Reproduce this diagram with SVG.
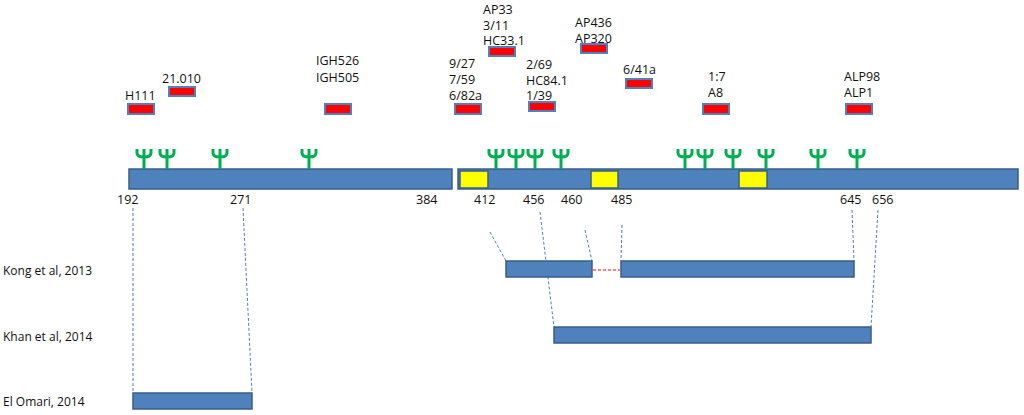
<svg xmlns="http://www.w3.org/2000/svg" width="1024" height="415" viewBox="0 0 1024 415">
<style>
text{font-family:"Open Sans","Liberation Sans",sans-serif;font-size:12.5px;fill:#111}
.lab{font-size:12px}
.bar{fill:#4f81bd;stroke:#385d8a;stroke-width:1.5}
.yel{fill:#ffff00;stroke:#385d8a;stroke-width:1.5}
.red{fill:#ff0000;stroke:#4f81bd;stroke-width:2}
.dash{stroke:#4f81bd;stroke-width:1;stroke-dasharray:3,2;fill:none}
.gly{fill:none;stroke:#00b050;stroke-width:3}
</style>
<defs>
<path id="g" class="gly" d="M0,20 V7 M-7,0 V4 Q-7,8 0,8 Q7,8 7,4 V0 M0,0 V8"/>
</defs>
<g id="connectors">
<path class="dash" d="M133,208 V393 M243,208 L252,393 M490,232 L506,261 M540,212 L554,327 M585,230 L592,261 M622,225 L621,261 M852,210 L854,261 M878,210 L871,327"/>
<path d="M593,270 H620" stroke="#ff0000" stroke-width="1" stroke-dasharray="3,2"/>
</g>
<g id="protein">
<rect class="bar" x="129" y="169" width="323" height="20"/>
<rect class="bar" x="458" y="169" width="560" height="20"/>
<rect class="yel" x="460" y="171" width="28" height="17"/>
<rect class="yel" x="591" y="171" width="27" height="17"/>
<rect class="yel" x="739" y="171" width="28" height="17"/>
</g>
<g id="glycans">
<use href="#g" x="144" y="149"/><use href="#g" x="167" y="149"/><use href="#g" x="220" y="149"/><use href="#g" x="309" y="149"/>
<use href="#g" x="496" y="149"/><use href="#g" x="516" y="149"/><use href="#g" x="535" y="149"/><use href="#g" x="561" y="149"/>
<use href="#g" x="685" y="149"/><use href="#g" x="705" y="149"/><use href="#g" x="733" y="149"/><use href="#g" x="766" y="149"/>
<use href="#g" x="818" y="149"/><use href="#g" x="857" y="149"/>
</g>
<g id="epitopes">
<rect class="red" x="128" y="104" width="26" height="10"/>
<text x="125" y="100">H111</text>
<rect class="red" x="169" y="87" width="26" height="9"/>
<text x="162" y="83">21.010</text>
<rect class="red" x="325" y="104" width="26" height="10"/>
<text x="316" y="65">IGH526</text><text x="316" y="82">IGH505</text>
<rect class="red" x="455" y="104" width="26" height="10"/>
<text x="449" y="68">9/27</text><text x="449" y="84">7/59</text><text x="449" y="100">6/82a</text>
<rect class="red" x="489" y="47" width="26" height="9"/>
<text x="483" y="14">AP33</text><text x="483" y="30">3/11</text><text x="483" y="45">HC33.1</text>
<rect class="red" x="529" y="102" width="26" height="9"/>
<text x="526" y="69">2/69</text><text x="526" y="85">HC84.1</text><text x="526" y="100">1/39</text>
<rect class="red" x="581" y="44" width="26" height="9"/>
<text x="575" y="27">AP436</text><text x="575" y="43">AP320</text>
<rect class="red" x="626" y="79" width="26" height="9"/>
<text x="623" y="74">6/41a</text>
<rect class="red" x="703" y="104" width="26" height="10"/>
<text x="708" y="81">1:7</text><text x="708" y="97">A8</text>
<rect class="red" x="846" y="104" width="26" height="10"/>
<text x="844" y="81">ALP98</text><text x="844" y="97">ALP1</text>
</g>
<g id="positions">
<text x="117" y="204">192</text><text x="230" y="204">271</text><text x="416" y="204">384</text><text x="474" y="204">412</text>
<text x="523" y="204">456</text><text x="561" y="204">460</text><text x="611" y="204">485</text><text x="840" y="204">645</text><text x="872" y="204">656</text>
</g>
<g id="kong">
<text class="lab" x="3" y="275">Kong et al, 2013</text>
<rect class="bar" x="506" y="261" width="86" height="16"/>
<rect class="bar" x="621" y="261" width="233" height="16"/>
</g>
<g id="khan">
<text class="lab" x="3" y="341">Khan et al, 2014</text>
<rect class="bar" x="554" y="327" width="317" height="16"/>
</g>
<g id="elomari">
<text class="lab" x="3" y="406">El Omari, 2014</text>
<rect class="bar" x="133" y="393" width="119" height="16"/>
</g>
</svg>
